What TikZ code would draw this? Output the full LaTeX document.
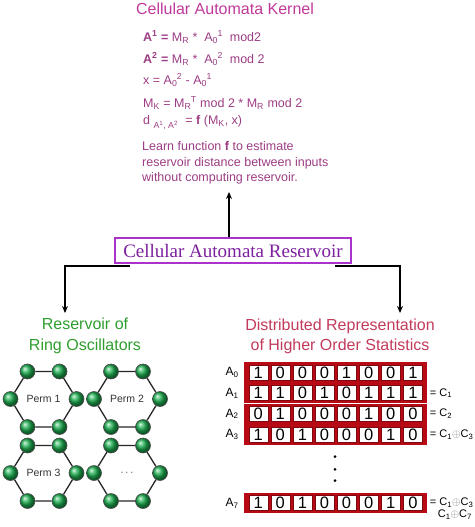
\documentclass[tikz,border=0pt]{standalone}
\usepackage{fontspec}
\setmainfont{Liberation Sans}
\newfontfamily\boxserif{Liberation Serif}
\usetikzlibrary{positioning,arrows.meta,calc}
\definecolor{kernelpink}{HTML}{C0399A}
\definecolor{eqpurple}{HTML}{9C3D84}
\definecolor{respurple}{HTML}{7D1F9E}
\definecolor{resborder}{HTML}{AA33CC}
\definecolor{ringgreen}{HTML}{2E9E2E}
\definecolor{ballgreen}{HTML}{1CB050}
\definecolor{statred}{HTML}{C23A5A}
\definecolor{gridred}{HTML}{B80A14}
\newcommand{\fsz}[1]{\fontsize{#1}{#1}\selectfont}
\newcommand{\subsup}[2]{\textsubscript{#1}\kern-0.5pt\textsuperscript{#2}}
\tikzset{
  ttl/.style    ={font=\fsz{16}, inner sep=1pt},
  eq/.style     ={font=\fsz{12.5}, text=eqpurple, anchor=west, inner sep=0pt},
  resbox/.style ={draw=resborder, line width=1.3pt, minimum width=236pt,
                  minimum height=25pt, inner sep=0pt, text=respurple,
                  font=\boxserif\fsz{19}},
  flow/.style   ={-{Stealth[length=7pt,width=6pt]}, line width=1.4pt, draw=black},
  ball/.style   ={circle, minimum size=15pt, inner sep=0pt, draw=black!70,
                  line width=0.6pt, shading=ball, ball color=ballgreen},
  ring/.style   ={draw=black!85, line width=1.3pt},
  perm/.style   ={font=\fsz{10.5}, text=black!80, inner sep=0pt},
  bitrow/.style ={fill=gridred, minimum width=183pt, minimum height=20.75pt,
                  inner sep=0pt},
  bit/.style    ={fill=white, draw=gridred!70!black, line width=0.3pt,
                  minimum width=19pt, minimum height=15pt, inner sep=0pt,
                  font=\fsz{16.5}},
  rowlbl/.style ={font=\fsz{12}, inner sep=0pt},
  rhs/.style    ={font=\fsz{11}, anchor=west, inner sep=0pt},
  dotmark/.style={circle, fill=black, inner sep=0pt, minimum size=3pt},
}

\begin{document}
\begin{tikzpicture}[x=1pt, y=-1pt]
\useasboundingbox (0,0) rectangle (474,527);

% ------------------------------------------------------------- kernel
\node[ttl, text=kernelpink] (kernel) at (225,9) {Cellular Automata Kernel};

\foreach \i/\y/\txt in {
    1/37/{\textbf{A\textsuperscript{1} =} M\textsubscript{R} *\ \ A\subsup{0}{1}\ \ mod2},
    2/59/{\textbf{A\textsuperscript{2} =} M\textsubscript{R} *\ \ A\subsup{0}{2}\ \ mod 2},
    3/80/{x = A\subsup{0}{2} - A\subsup{0}{1}},
    4/103/{M\textsubscript{K} = M\subsup{R}{T} mod 2 * M\textsubscript{R} mod 2},
    5/123/{d \textsubscript{A\textsuperscript{1}, A\textsuperscript{2}}\ \ = \textbf{f} (M\textsubscript{K}, x)}} {
  \node[eq] (eq\i) at (143,\y) {\txt};
}
\node[eq, anchor=north west, align=left, font={\fontsize{12.5}{15.5}\selectfont}]
  (note) at (142,141.5)
  {Learn function \textbf{f} to estimate\\reservoir distance between inputs\\without computing reservoir.};

% ------------------------------------------------------------- reservoir + forks
\node[resbox] (res) at (233,250.5) {Cellular Automata Reservoir};

\coordinate (kerneltip) at (229,192);
\coordinate (lfork) at (130,266);
\coordinate (ringtip) at (65,313);
\coordinate (rfork) at (335,266);
\coordinate (disttip) at (400,313);
\draw[flow] (res.north -| kerneltip) -- (kerneltip);
\draw[flow] (lfork) -| (ringtip);
\draw[flow] (rfork) -| (disttip);

% ------------------------------------------------------------- ring oscillators
\node[ttl, text=ringgreen, align=center, font={\fontsize{16}{21}\selectfont}]
  (ringtitle) at (85,336) {Reservoir of\\Ring Oscillators};

\foreach \h/\cx/\cy/\lab in {
    1/43.5/399/{Perm 1},
    2/127/399/{Perm 2},
    3/43.5/473/{Perm 3},
    4/127/473/{$\cdots$}} {
  \node[ball] (h\h-tl) at ({\cx-16},{\cy-27.5}) {};
  \node[ball] (h\h-tr) at ({\cx+16},{\cy-27.5}) {};
  \node[ball] (h\h-r)  at ({\cx+33},\cy) {};
  \node[ball] (h\h-br) at ({\cx+16},{\cy+28}) {};
  \node[ball] (h\h-bl) at ({\cx-16},{\cy+28}) {};
  \node[ball] (h\h-l)  at ({\cx-33},\cy) {};
  \draw[ring] (h\h-tl) -- (h\h-tr) -- (h\h-r) -- (h\h-br) -- (h\h-bl) -- (h\h-l) -- (h\h-tl);
  \node[perm] (perm\h) at (\cx,\cy) {\lab};
}

% ------------------------------------------------------------- statistics grid
\node[ttl, text=statred, align=center, font={\fontsize{16}{20}\selectfont}]
  (disttitle) at (340,336) {Distributed Representation\\of Higher Order Statistics};

\foreach \r/\y/\bits/\eqn in {
    0/372.4/{1,0,0,0,1,0,0,1}/{},
    1/393.1/{1,1,0,1,0,1,1,1}/{= C\textsubscript{1}},
    2/413.9/{0,1,0,0,0,1,0,0}/{= C\textsubscript{2}},
    3/434.6/{1,0,1,0,0,0,1,0}/{= C\textsubscript{1}{\color{black!55}$\oplus$}C\textsubscript{3}},
    7/503/{1,0,1,0,0,0,1,0}/{= C\textsubscript{1}{\color{black!55}$\oplus$}C\textsubscript{3}}} {
  \node[bitrow] (row\r) at (335.5,\y) {};
  \foreach \b [count=\k] in \bits {
    \node[bit] (b\r-\k) at ({335.5+22.1*(\k-4.5)},\y) {\b};
  }
  \node[rowlbl, left=5pt of row\r] (lbl\r) {A\textsubscript{\r}};
  \node[rhs, right=2.5pt of row\r] (rhs\r) {\eqn};
}
\node[rhs, anchor=north west] (rhs7b) at ([xshift=8pt, yshift=-2pt]rhs7.south west)
  {C\textsubscript{1}{\color{black!55}$\oplus$}C\textsubscript{7}};

\foreach \d/\y in {1/456.7, 2/469.3, 3/480.7}
  \node[dotmark] (dot\d) at (335,\y) {};

\end{tikzpicture}
\end{document}
